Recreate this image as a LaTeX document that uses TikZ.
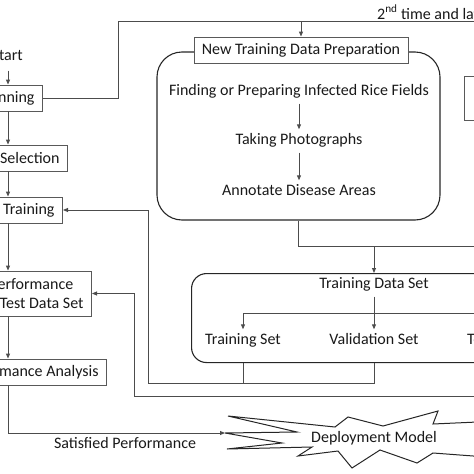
\documentclass[tikz,border=0pt]{standalone}
\usepackage{fontspec}
\setmainfont{Carlito}
\usetikzlibrary{arrows.meta}
\begin{document}
\begin{tikzpicture}[x=1pt,y=-1pt, font=\fontsize{16}{19}\selectfont,
  ln/.style={draw=black!70, line width=0.9pt},
  arr/.style={ln, -{Triangle[length=5pt,width=4pt]}},
  box/.style={draw=black!65, line width=0.9pt, fill=white, inner xsep=8pt, inner ysep=0pt, minimum height=26pt, text=black!90},
  rbox/.style={draw=black!85, line width=1.1pt},
  lbl/.style={inner xsep=0pt, inner ysep=4pt, text height=11pt, text depth=4pt, text=black!90}]
\useasboundingbox (0,0) rectangle (474,474);
\clip (0,0) rectangle (474,474);
% left column
\coordinate (col) at (8,0);
\node[lbl, anchor=east, inner ysep=6pt] (start) at (23,57) {Start};
\node[box, anchor=east] (plan) at (43,98) {Planning};
\node[box, anchor=east] (sel) at (68,158) {Model Selection};
\node[box, anchor=east] (train) at (63,210) {Model Training};
\node[box, anchor=east, align=center, minimum height=45pt] (perf) at (92,293.5) {Performance\\on Test Data Set};
\node[box, anchor=east] (anal) at (107,372) {Performance Analysis};
\draw[arr] (start.south -| col) -- (plan.north -| col);
\draw[arr] (plan.south -| col) -- (sel.north -| col);
\draw[arr] (sel.south -| col) -- (train.north -| col);
\draw[arr] (train.south -| col) -- (perf.north -| col);
\draw[arr] (perf.south -| col) -- (anal.north -| col);
% new training data preparation
\node[rbox, rounded corners=25pt, minimum width=283pt, minimum height=168pt] (prepbox) at (298.5,136) {};
\node[box, minimum width=214pt, inner xsep=0pt] (newprep) at (301,50) {New Training Data Preparation};
\node[lbl] (find) at (299,92) {Finding or Preparing Infected Rice Fields};
\node[lbl] (photo) at (299,141) {Taking Photographs};
\node[lbl] (annot) at (299,192) {Annotate Disease Areas};
\draw[arr] (find) -- (photo);
\draw[arr] (photo) -- (annot);
\coordinate (topleft) at (118,21);
\coordinate (topR) at (480,21);
\draw[ln] (plan.east) -| (topleft) -- (topR);
\draw[arr] (newprep.north |- topleft) -- (newprep.north);
\node[lbl, anchor=base west, inner ysep=0pt] (later) at (377,19) {2\textsuperscript{nd} time and later};
\node[draw=black!65, line width=0.9pt, anchor=north west, minimum width=60pt, minimum height=44pt] (sidebox) at (464,76) {};
% training data set
\node[rbox, rounded corners=15pt, anchor=north west, minimum width=370pt, minimum height=89pt] (tdsbox) at (191,273) {};
\node[lbl] (tds) at (374,285) {Training Data Set};
\node[lbl] (trset) at (243,341) {Training Set};
\node[lbl] (valset) at (374,341) {Validation Set};
\node[lbl] (teset) at (492,341) {Test Set};
\coordinate (bus1) at (480,246);
\draw[ln] (prepbox.south) |- (bus1);
\draw[arr] (tds.north |- bus1) -- (tdsbox.north -| tds);
\coordinate (bus2) at (520,313);
\draw[arr] (tds) -- (valset);
\draw[arr] (bus2) -| (trset.north);
\draw[arr] (teset.north |- bus2) -- (teset.north);
% feedback lines
\coordinate (fb1) at (148,383);
\draw[arr] (trset |- tdsbox.south) |- (fb1) |- (train.east);
\draw[ln] (valset |- tdsbox.south) |- (trset |- fb1);
\coordinate (fb2) at (134,396);
\coordinate (rin) at (480,396);
\draw[arr] (rin) -- (fb2) |- (perf.east);
% deployment
\draw[draw=black!85, line width=1pt, fill=white]
  (228,416) -- (335,427) -- (348,417) -- (383,426) -- (438,411) -- (433,424) -- (500,421)
  -- (500,458) -- (433,453) -- (417,463) -- (380,450) -- (352,468) -- (338,451) -- (298,456)
  -- (312,447) -- (227,449) -- (282,443) -- (225,433) -- (297,432) -- cycle;
\node[lbl] (deploy) at (374,439) {Deployment Model};
\coordinate (deptip) at (225,433);
\draw[arr] (anal.south -| col) |- (deptip);
\node[lbl] (sat) at (125,445) {Satisfied Performance};
\end{tikzpicture}
\end{document}
